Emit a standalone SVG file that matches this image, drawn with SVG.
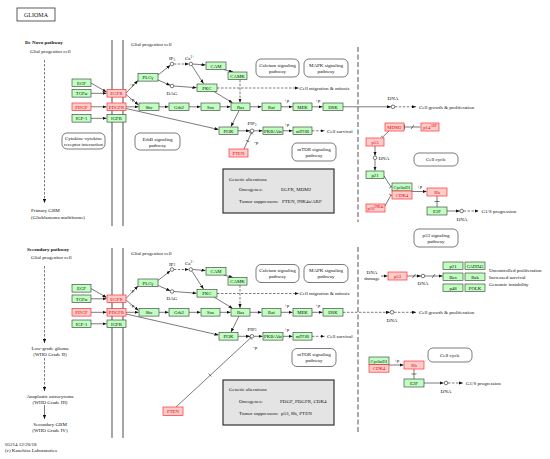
<svg xmlns="http://www.w3.org/2000/svg" width="550" height="459" viewBox="0 0 550 459">
<defs>
<marker id="ah" markerWidth="4" markerHeight="3.2" refX="4" refY="1.6" orient="auto" markerUnits="userSpaceOnUse"><path d="M0,0 L4,1.6 L0,3.2 z" fill="#111"/></marker>
</defs>
<style>
text{font-family:"Liberation Serif","Times New Roman",serif;font-size:5px;fill:#111}
.n rect{fill:#bfffbf;stroke:#333;stroke-width:0.6}
.n text{text-anchor:middle;font-size:4.8px}
.r rect{fill:#ffcccc;stroke:#ff3030;stroke-width:0.7}
.r text{fill:#e00000}
.pw rect{fill:#fff;stroke:#444;stroke-width:0.7}
.pw text{text-anchor:middle}
.c path{stroke:#222;stroke-width:0.6;fill:none}
.a{marker-end:url(#ah)}
.d{stroke-dasharray:2.5,1.5}
.mem{stroke:#777;stroke-width:1.3}
.sep{stroke:#aaa;stroke-width:2;stroke-dasharray:5,2.5}
.dot circle{fill:#fff;stroke:#222;stroke-width:0.6}
.ga rect{fill:#e4e4e4;stroke:#333;stroke-width:1.2}
.ctr{text-anchor:middle}
.b{font-weight:bold}
.sub{font-size:3.3px}
</style>
<rect width="550" height="459" fill="#fff"/>

<g id="title"><rect x="17" y="8" width="38" height="13" fill="#fff" stroke="#333" stroke-width="0.8"/><text x="36" y="16.8" class="ctr" style="font-size:6px">GLIOMA</text></g>

<!-- membranes and separators -->
<g id="frame">
<line class="mem" x1="112" y1="40" x2="112" y2="226"/>
<line class="mem" x1="123" y1="40" x2="123" y2="226"/>
<line class="mem" x1="112" y1="248" x2="112" y2="438"/>
<line class="mem" x1="123" y1="248" x2="123" y2="438"/>
<line class="sep" x1="358" y1="47" x2="358" y2="222"/>
<line class="sep" x1="358" y1="247" x2="358" y2="433"/>
</g>

<!-- left labels -->
<g id="left-labels">
<text x="25" y="44" class="b">De Novo pathway</text>
<text x="30" y="53">Glial progenitor cell</text>
<text x="131" y="46">Glial progenitor cell</text>
<text x="31" y="212">Primary GBM</text>
<text x="31" y="219">(Glioblastoma multiforme)</text>
<text x="27" y="251" class="b">Secondary pathway</text>
<text x="31" y="259">Glial progenitor cell</text>
<text x="131" y="254.5">Glial progenitor cell</text>
<text x="50" y="350" class="ctr">Low-grade glioma</text>
<text x="50" y="355.5" class="ctr">(WHO Grade II)</text>
<text x="50" y="398" class="ctr">Anaplastic astrocytoma</text>
<text x="50" y="403.5" class="ctr">(WHO Grade III)</text>
<text x="50" y="426" class="ctr">Secondary GBM</text>
<text x="50" y="431.5" class="ctr">(WHO Grade IV)</text>
<text x="5" y="446">05214 12/20/18</text>
<text x="5" y="452">(c) Kanehisa Laboratories</text>
</g>

<!-- pathway boxes -->
<g id="pw-cytokine" class="pw"><rect x="62" y="133" width="43" height="16" rx="5"/><text x="83.5" y="140">Cytokine-cytokine</text><text x="83.5" y="146">receptor interaction</text></g>
<g id="pw-erbb" class="pw"><rect x="135" y="133" width="45" height="17" rx="5"/><text x="157.5" y="140.5">ErbB signaling</text><text x="157.5" y="146.5">pathway</text></g>
<g id="pw-calcium" class="pw"><rect x="256" y="59" width="43" height="18" rx="5"/><text x="277.5" y="66.5">Calcium signaling</text><text x="277.5" y="72.5">pathway</text></g>
<g id="pw-mapk" class="pw"><rect x="304" y="59" width="44" height="18" rx="5"/><text x="326" y="66.5">MAPK signaling</text><text x="326" y="72.5">pathway</text></g>
<g id="pw-mtor" class="pw"><rect x="292" y="143" width="44" height="18" rx="5"/><text x="314" y="150.5">mTOR signaling</text><text x="314" y="156.5">pathway</text></g>
<g id="pw-cellcycle" class="pw"><rect x="414" y="153" width="44" height="13" rx="5"/><text x="436" y="161.2">Cell cycle</text></g>
<g id="pw-p53" class="pw"><rect x="414" y="229" width="44" height="18" rx="5"/><text x="436" y="236.5">p53 signaling</text><text x="436" y="242.5">pathway</text></g>
<g id="pw-calcium-2" class="pw"><rect x="256" y="264.5" width="43" height="18" rx="5"/><text x="277.5" y="272">Calcium signaling</text><text x="277.5" y="278">pathway</text></g>
<g id="pw-mapk-2" class="pw"><rect x="304" y="264.5" width="44" height="18" rx="5"/><text x="326" y="272">MAPK signaling</text><text x="326" y="278">pathway</text></g>
<g id="pw-mtor-2" class="pw"><rect x="292" y="348.5" width="44" height="18" rx="5"/><text x="314" y="356">mTOR signaling</text><text x="314" y="362">pathway</text></g>
<g id="pw-cellcycle-2" class="pw"><rect x="428" y="348" width="44" height="14" rx="5"/><text x="450" y="356.7">Cell cycle</text></g>

<!-- genetic alterations -->
<g id="ga-1" class="ga"><rect x="223" y="169" width="111" height="44"/>
<text x="229" y="181">Genetic alterations</text><text x="239" y="191">Oncogenes:</text><text x="281" y="191">EGFR, MDM2</text>
<text x="239" y="203">Tumor suppressors:</text><text x="282" y="203">PTEN, INK4a/ARF</text></g>
<g id="ga-2" class="ga"><rect x="223" y="380" width="111" height="45"/>
<text x="229" y="391">Genetic alterations</text><text x="239" y="403">Oncogenes:</text><text x="280" y="403">PDGF, PDGFR, CDK4</text>
<text x="239" y="415">Tumor suppressors:</text><text x="281" y="415">p53, Rb, PTEN</text></g>

<!-- connectors -->
<g id="connectors" class="c">
<path class="a d" d="M44.5,60 L44.5,203"/>
<path class="a d" d="M44.5,266 L44.5,343"/>
<path class="a d" d="M44.5,358 L44.5,391"/>
<path class="a" d="M44.5,405 L44.5,419"/>
<g id="conn-shared">
<path class="a" d="M91,83 L106.5,92"/>
<path class="a" d="M91,93.3 L106.5,93.3"/>
<path class="a" d="M91,106.8 L106.5,106.8"/>
<path class="a" d="M91,118.3 L106.5,118.3"/>
<path class="a" d="M126,93 L138,80.5"/>
<path class="a" d="M126,94.5 L138.5,105"/>
<path class="a" d="M126,106.8 L138.5,106.8"/>
<path class="a" d="M126,108.5 L218.5,129.5"/>
<path class="a" d="M158,75 L170.3,65.3"/>
<path class="a" d="M158,80 L170.2,85.3"/>
<path class="a d" d="M173.8,64 L188.7,64"/>
<path class="a" d="M192.8,64 L205.5,65"/>
<path class="a" d="M192,65.7 L203.5,83.6"/>
<path class="a" d="M173.8,86 L196.5,87.7"/>
<path class="a" d="M224,69.6 L233,72"/>
<path class="a d" d="M240,79.6 L240,102.6"/>
<path class="a" d="M214,91.6 L232.5,102.8"/>
<path class="a d" d="M217,88 L298.5,88"/>
<path class="a" d="M159,106.8 L168.5,106.8"/>
<path class="a" d="M189,106.8 L200.5,106.8"/>
<path class="a" d="M220,106.8 L230.5,106.8"/>
<path class="a" d="M250,106.8 L261.5,106.8"/>
<path class="a" d="M281,106.8 L292.5,106.8"/>
<path class="a" d="M312,106.8 L322.5,106.8"/>
<path class="a" d="M239,110.6 L231,126.6"/>
<path class="a" d="M238,130.8 L250,130.8"/>
<path class="a" d="M253.8,130.8 L262.5,130.8"/>
<path class="a" d="M283,130.8 L292.5,130.8"/>
<path class="a d" d="M312,130.8 L324.5,130.8"/>
</g>
<use href="#conn-shared" transform="translate(0,205.5)"/>
<!-- top specific -->
<path class="a" d="M343,106.8 L391,106.8"/>
<path class="a d" d="M394.8,106.8 L416,106.8"/>
<path d="M244,149 L251.2,133.2"/><path d="M249.1,132.2 L253.3,134.2"/><path d="M245.8,140.2 L249.4,141.8"/>
<path d="M420.5,127 L404.5,127"/><path d="M404.5,124.5 L404.5,129.5"/><path d="M411,129 L414,125"/>
<path d="M389,131 L382.5,137.2"/><path d="M381,135.8 L384,138.6"/>
<path class="a" d="M375,146 L375,155.8"/>
<path class="a" d="M375,159.8 L375,170.6"/>
<path d="M384,176 L391,187"/><path d="M389.3,188.1 L392.7,185.9"/>
<path d="M385,206 L391,195"/><path d="M389.2,194 L392.8,196"/>
<path class="a" d="M412,191.5 L426.5,191.5"/>
<path d="M437,196 L437,207"/><path d="M434.5,201.5 L439.5,201.5"/>
<path class="a" d="M447,211 L459.7,211"/>
<path class="a d" d="M463.5,211 L478.5,211"/>
<!-- bottom specific -->
<path class="a d" d="M343,312.3 L390,312.3"/>
<path class="a d" d="M394,312.3 L416,312.3"/>
<path d="M176,407 L250.5,338"/><path d="M248.9,336.3 L252.1,339.7"/><path d="M208.6,373.5 L211.4,376.5"/>
<path class="a" d="M381,276 L387.5,276"/>
<path class="a" d="M407,276 L421,276"/><path d="M412.5,278 L415.5,274"/>
<path class="a" d="M425,276 L442.5,276"/><path d="M432,278 L435,274"/>
<path class="a" d="M389,365 L403.5,365"/>
<path d="M414,369 L414,379"/><path d="M411.5,374 L416.5,374"/>
<path class="a" d="M424,383 L443.5,383"/>
<path class="a d" d="M448,383 L463,383"/>
</g>

<!-- connector labels -->
<g id="conn-labels" style="font-size:4.4px">
<text x="129" y="86">+p</text>
<text x="129" y="101">+p</text>
<text x="284" y="101.5">+p</text>
<text x="315" y="101.5">+p</text>
<text x="284" y="125.5">+p</text>
<text x="254" y="143.5">-p</text>
<text x="299.5" y="89.5" style="font-size:5px">Cell migration &amp; mitosis</text>
<text x="327" y="132.5" style="font-size:5px">Cell survival</text>
<text x="393" y="99.5" class="ctr" style="font-size:5px">DNA</text>
<text x="419" y="108.5" style="font-size:5px">Cell growth &amp; proliferation</text>
<text x="378.5" y="160" style="font-size:5px">DNA</text>
<text x="417" y="188">+p</text>
<text x="462" y="220.5" class="ctr" style="font-size:5px">DNA</text>
<text x="481.5" y="212.7" style="font-size:5px">G1/S progression</text>
<text x="129" y="291.5">+p</text>
<text x="129" y="306.5">+p</text>
<text x="284" y="307">+p</text>
<text x="315" y="307">+p</text>
<text x="284" y="331">+p</text>
<text x="253" y="349">-p</text>
<text x="299.5" y="295" style="font-size:5px">Cell migration &amp; mitosis</text>
<text x="327" y="338" style="font-size:5px">Cell survival</text>
<text x="392" y="321.5" class="ctr" style="font-size:5px">DNA</text>
<text x="419" y="314" style="font-size:5px">Cell growth &amp; proliferation</text>
<text x="372" y="274" class="ctr" style="font-size:5px">DNA</text>
<text x="372" y="280" class="ctr" style="font-size:5px">damage</text>
<text x="423" y="285" class="ctr" style="font-size:5px">DNA</text>
<text x="489" y="272" style="font-size:5px">Uncontrolled proliferation</text>
<text x="489" y="279" style="font-size:5px">Increased survival</text>
<text x="489" y="286" style="font-size:5px">Genomic instability</text>
<text x="394" y="361.5">+p</text>
<text x="446" y="392.5" class="ctr" style="font-size:5px">DNA</text>
<text x="466" y="384.7" style="font-size:5px">G1/S progression</text>
</g>

<!-- De novo nodes -->
<g id="n-egf" class="n"><rect x="72" y="79" width="19" height="7.6"/><text x="81.5" y="84.6">EGF</text></g>
<g id="n-tgfa" class="n"><rect x="72" y="89.5" width="19" height="7.6"/><text x="81.5" y="95.1">TGFα</text></g>
<g id="n-pdgf" class="n r"><rect x="72" y="103" width="19" height="7.6"/><text x="81.5" y="108.6">PDGF</text></g>
<g id="n-igf1" class="n"><rect x="72" y="114.5" width="19" height="7.6"/><text x="81.5" y="120.1">IGF-1</text></g>
<g id="n-egfr" class="n r"><rect x="107" y="89.5" width="19" height="7.6"/><text x="116.5" y="95.1">EGFR</text></g>
<g id="n-pdgfr" class="n r"><rect x="107" y="103" width="19" height="7.6"/><text x="116.5" y="108.6">PDGFR</text></g>
<g id="n-igfr" class="n"><rect x="107" y="114.5" width="19" height="7.6"/><text x="116.5" y="120.1">IGFR</text></g>
<g id="n-plcg" class="n"><rect x="138" y="73.5" width="20" height="7.6"/><text x="148" y="79.1">PLCγ</text></g>
<g id="n-cam" class="n"><rect x="206" y="62" width="20" height="7.6"/><text x="216" y="67.6">CAM</text></g>
<g id="n-camk" class="n"><rect x="228" y="72" width="19" height="7.6"/><text x="237.5" y="77.6">CAMK</text></g>
<g id="n-pkc" class="n"><rect x="197" y="84" width="20" height="7.6"/><text x="207" y="89.6">PKC</text></g>
<g id="n-shc" class="n"><rect x="139" y="103" width="20" height="7.6"/><text x="149" y="108.6">Shc</text></g>
<g id="n-grb2" class="n"><rect x="169" y="103" width="20" height="7.6"/><text x="179" y="108.6">Grb2</text></g>
<g id="n-sos" class="n"><rect x="201" y="103" width="19" height="7.6"/><text x="210.5" y="108.6">Sos</text></g>
<g id="n-ras" class="n"><rect x="231" y="103" width="19" height="7.6"/><text x="240.5" y="108.6">Ras</text></g>
<g id="n-raf" class="n"><rect x="262" y="103" width="19" height="7.6"/><text x="271.5" y="108.6">Raf</text></g>
<g id="n-mek" class="n"><rect x="293" y="103" width="19" height="7.6"/><text x="302.5" y="108.6">MEK</text></g>
<g id="n-erk" class="n"><rect x="323" y="103" width="20" height="7.6"/><text x="333" y="108.6">ERK</text></g>
<g id="n-pi3k" class="n"><rect x="219" y="127" width="19" height="7.6"/><text x="228.5" y="132.6">PI3K</text></g>
<g id="n-akt" class="n"><rect x="263" y="127" width="20" height="7.6"/><text x="273" y="132.6">PKB/Akt</text></g>
<g id="n-mtor" class="n"><rect x="293" y="127" width="19" height="7.6"/><text x="302.5" y="132.6">mTOR</text></g>
<g id="n-pten" class="n r"><rect x="229" y="149" width="19" height="8"/><text x="238.5" y="154.8">PTEN</text></g>
<g id="n-mdm2" class="n r"><rect x="385" y="123" width="19" height="8"/><text x="394.5" y="128.8">MDM2</text></g>
<g id="n-p14arf" class="n r"><rect x="421" y="123" width="18" height="8"/><text x="430" y="128.8">p14<tspan class="sub" dy="-1.5">ARF</tspan></text></g>
<g id="n-p53" class="n r"><rect x="366" y="138" width="18" height="8"/><text x="375" y="143.8">p53</text></g>
<g id="n-p21" class="n"><rect x="366" y="171" width="18" height="7.6"/><text x="375" y="176.6">p21</text></g>
<g id="n-cyclind1" class="n"><rect x="392" y="183" width="20" height="8"/><text x="402" y="188.8" style="font-size:4.4px">CyclinD1</text></g>
<g id="n-cdk4" class="n r"><rect x="392" y="191" width="20" height="8"/><text x="402" y="196.8">CDK4</text></g>
<g id="n-p16" class="n r"><rect x="366" y="204" width="19" height="8"/><text x="375.5" y="209.8">p16<tspan class="sub" dy="-1.5">INK4a</tspan></text></g>
<g id="n-rb" class="n r"><rect x="427" y="188" width="20" height="8"/><text x="437" y="193.8">Rb</text></g>
<g id="n-e2f" class="n"><rect x="427" y="207" width="20" height="8"/><text x="437" y="212.8">E2F</text></g>

<!-- compounds (top) -->
<g id="c-ip3" class="dot"><circle cx="172" cy="64" r="1.8"/><text x="172" y="60" class="ctr">IP<tspan class="sub" dy="0.8">3</tspan></text></g>
<g id="c-ca" class="dot"><circle cx="190.8" cy="64" r="1.8"/><text x="185" y="59.5">Ca<tspan class="sub" dy="-1.8">2+</tspan></text></g>
<g id="c-dag" class="dot"><circle cx="172" cy="86" r="1.8"/><text x="172" y="94.5" class="ctr">DAG</text></g>
<g id="c-pip3" class="dot"><circle cx="252" cy="130.8" r="1.8"/><text x="252" y="125" class="ctr">PIP<tspan class="sub" dy="0.8">3</tspan></text></g>
<g id="c-dna1" class="dot"><circle cx="393" cy="106.8" r="1.8"/></g>
<g id="c-dna2" class="dot"><circle cx="375" cy="157.8" r="1.8"/></g>
<g id="c-dna3" class="dot"><circle cx="461.7" cy="211" r="1.8"/></g>

<!-- Secondary pathway nodes (same layout, shifted) -->
<g id="secondary" transform="translate(0,205.5)">
<g id="b-egf" class="n"><rect x="72" y="79" width="19" height="7.6"/><text x="81.5" y="84.6">EGF</text></g>
<g id="b-tgfa" class="n"><rect x="72" y="89.5" width="19" height="7.6"/><text x="81.5" y="95.1">TGFα</text></g>
<g id="b-pdgf" class="n r"><rect x="72" y="103" width="19" height="7.6"/><text x="81.5" y="108.6">PDGF</text></g>
<g id="b-igf1" class="n"><rect x="72" y="114.5" width="19" height="7.6"/><text x="81.5" y="120.1">IGF-1</text></g>
<g id="b-egfr" class="n r"><rect x="107" y="89.5" width="19" height="7.6"/><text x="116.5" y="95.1">EGFR</text></g>
<g id="b-pdgfr" class="n r"><rect x="107" y="103" width="19" height="7.6"/><text x="116.5" y="108.6">PDGFR</text></g>
<g id="b-igfr" class="n"><rect x="107" y="114.5" width="19" height="7.6"/><text x="116.5" y="120.1">IGFR</text></g>
<g id="b-plcg" class="n"><rect x="138" y="73.5" width="20" height="7.6"/><text x="148" y="79.1">PLCγ</text></g>
<g id="b-cam" class="n"><rect x="206" y="62" width="20" height="7.6"/><text x="216" y="67.6">CAM</text></g>
<g id="b-camk" class="n"><rect x="228" y="72" width="19" height="7.6"/><text x="237.5" y="77.6">CAMK</text></g>
<g id="b-pkc" class="n"><rect x="197" y="84" width="20" height="7.6"/><text x="207" y="89.6">PKC</text></g>
<g id="b-shc" class="n"><rect x="139" y="103" width="20" height="7.6"/><text x="149" y="108.6">Shc</text></g>
<g id="b-grb2" class="n"><rect x="169" y="103" width="20" height="7.6"/><text x="179" y="108.6">Grb2</text></g>
<g id="b-sos" class="n"><rect x="201" y="103" width="19" height="7.6"/><text x="210.5" y="108.6">Sos</text></g>
<g id="b-ras" class="n"><rect x="231" y="103" width="19" height="7.6"/><text x="240.5" y="108.6">Ras</text></g>
<g id="b-raf" class="n"><rect x="262" y="103" width="19" height="7.6"/><text x="271.5" y="108.6">Raf</text></g>
<g id="b-mek" class="n"><rect x="293" y="103" width="19" height="7.6"/><text x="302.5" y="108.6">MEK</text></g>
<g id="b-erk" class="n"><rect x="323" y="103" width="20" height="7.6"/><text x="333" y="108.6">ERK</text></g>
<g id="b-pi3k" class="n"><rect x="219" y="127" width="19" height="7.6"/><text x="228.5" y="132.6">PI3K</text></g>
<g id="b-akt" class="n"><rect x="263" y="127" width="20" height="7.6"/><text x="273" y="132.6">PKB/Akt</text></g>
<g id="b-mtor" class="n"><rect x="293" y="127" width="19" height="7.6"/><text x="302.5" y="132.6">mTOR</text></g>
<g id="bc-ip3" class="dot"><circle cx="172" cy="64" r="1.8"/><text x="172" y="60" class="ctr">IP<tspan class="sub" dy="0.8">3</tspan></text></g>
<g id="bc-ca" class="dot"><circle cx="190.8" cy="64" r="1.8"/><text x="185" y="59.5">Ca<tspan class="sub" dy="-1.8">2+</tspan></text></g>
<g id="bc-dag" class="dot"><circle cx="172" cy="86" r="1.8"/><text x="172" y="94.5" class="ctr">DAG</text></g>
<g id="bc-pip3" class="dot"><circle cx="252" cy="130.8" r="1.8"/><text x="252" y="125" class="ctr">PIP<tspan class="sub" dy="0.8">3</tspan></text></g>
</g>

<!-- Secondary pathway specific nodes -->
<g id="b-pten" class="n r"><rect x="163" y="407" width="20" height="8.5"/><text x="173" y="413">PTEN</text></g>
<g id="b-p53" class="n r"><rect x="388" y="272" width="19" height="8"/><text x="397.5" y="277.8">p53</text></g>
<g id="b-p21" class="n"><rect x="443" y="262" width="20" height="7.4"/><text x="453" y="267.5">p21</text></g>
<g id="b-gadd45" class="n"><rect x="465" y="262" width="20" height="7.4"/><text x="475" y="267.5" style="font-size:4.3px">GADD45</text></g>
<g id="b-bax" class="n"><rect x="443" y="273" width="20" height="7.4"/><text x="453" y="278.5">Bax</text></g>
<g id="b-bak" class="n"><rect x="465" y="273" width="20" height="7.4"/><text x="475" y="278.5">Bak</text></g>
<g id="b-p48" class="n"><rect x="443" y="284" width="20" height="7.4"/><text x="453" y="289.5">p48</text></g>
<g id="b-polk" class="n"><rect x="465" y="284" width="20" height="7.4"/><text x="475" y="289.5">POLK</text></g>
<g id="b-cyclind1" class="n"><rect x="369" y="357" width="20" height="7.6"/><text x="379" y="362.6" style="font-size:4.4px">CyclinD1</text></g>
<g id="b-cdk4" class="n r"><rect x="369" y="364.6" width="20" height="7.6"/><text x="379" y="370.2">CDK4</text></g>
<g id="b-rb" class="n r"><rect x="404" y="361" width="20" height="8"/><text x="414" y="366.8">Rb</text></g>
<g id="b-e2f" class="n"><rect x="404" y="379" width="20" height="8"/><text x="414" y="384.8">E2F</text></g>
<g id="bc-dna1" class="dot"><circle cx="392" cy="312.3" r="1.8"/></g>
<g id="bc-dna2" class="dot"><circle cx="423" cy="276" r="1.8"/></g>
<g id="bc-dna3" class="dot"><circle cx="446" cy="383" r="1.8"/></g>
</svg>
